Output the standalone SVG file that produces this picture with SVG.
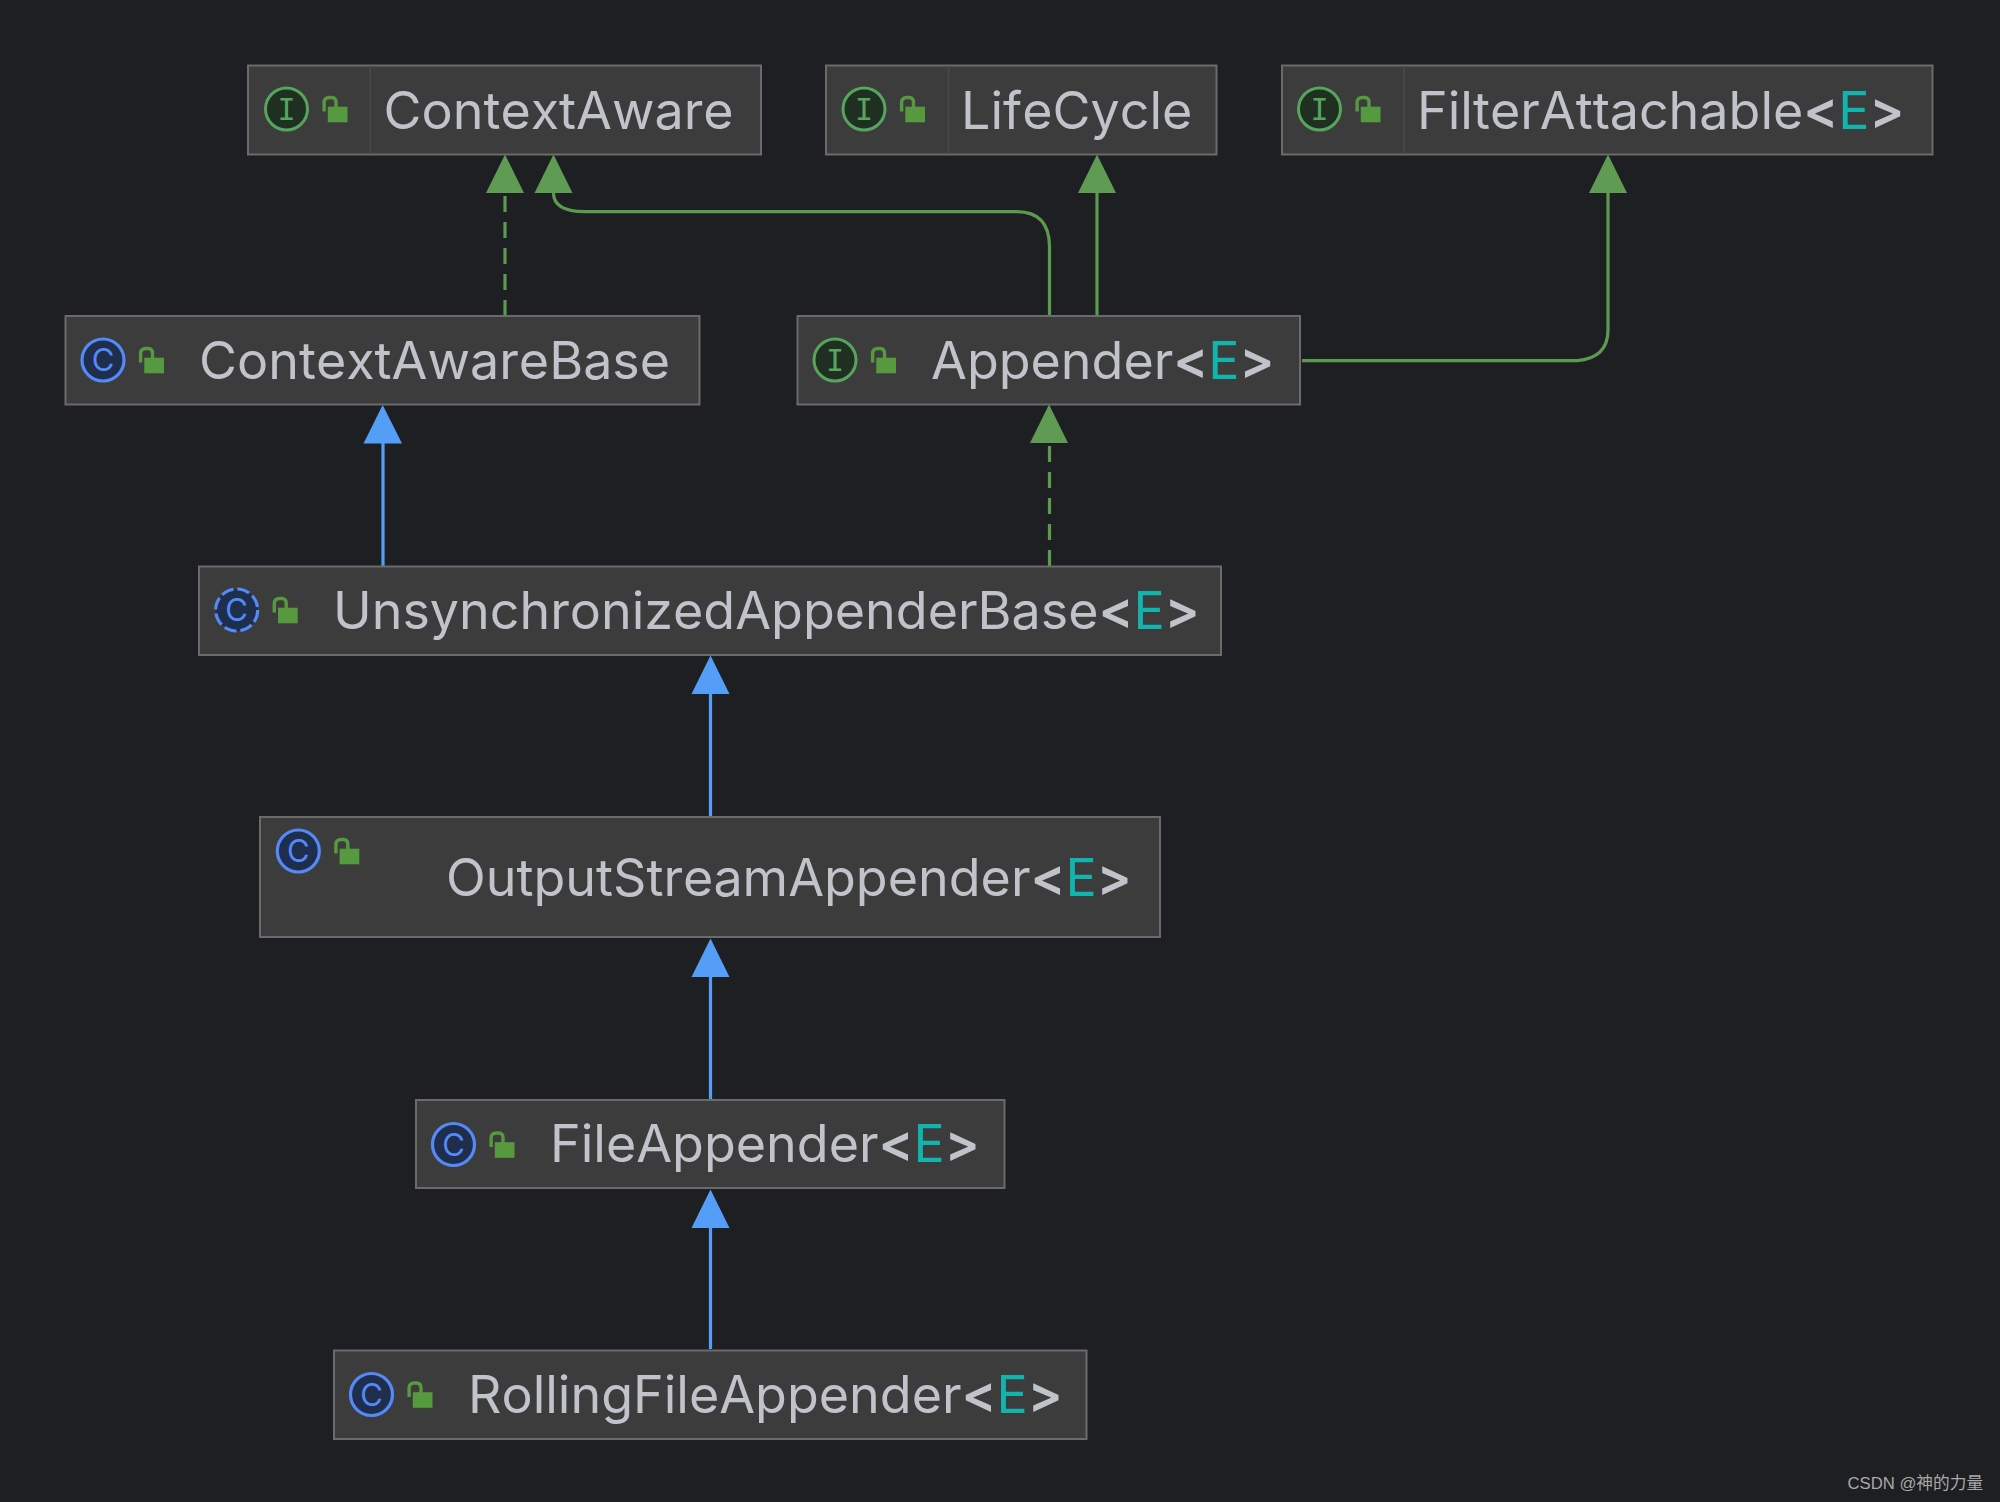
<svg xmlns="http://www.w3.org/2000/svg" width="2000" height="1502" viewBox="0 0 2000 1502">
<style>
.box{fill:#3c3c3d;stroke:#6b6b6b;stroke-width:2}
.div{stroke:#4a4a4b;stroke-width:1.5}
.t{font-family:Inter,"Liberation Sans",sans-serif;font-size:52px;fill:#c1c3ca;font-kerning:none}
.b{font-weight:600}
.e{fill:#12b5ad}
.ci{fill:#1f3022;stroke:#57a55c;stroke-width:3}
.cc{fill:#1f2e4c;stroke:#548af7;stroke-width:3.2}
.ca{stroke-dasharray:12.5 4}
.il{font-family:"DejaVu Sans Mono",monospace;font-size:30px;fill:#57a55c;text-anchor:middle}
.cl{font-family:Inter,"Liberation Sans",sans-serif;font-size:31px;fill:#548af7;text-anchor:middle}
.g{fill:none;stroke:#5c9a50;stroke-width:3.2}
.gd{stroke-dasharray:16 10}
.bl{fill:none;stroke:#549ef7;stroke-width:3.2}
.hg{fill:#5f9b53}
.hb{fill:#549ef7}
.wm{font-family:"Liberation Sans","Noto Sans CJK SC",sans-serif;font-size:16.7px;fill:#a9a9a9}
</style>
<defs>
<g id="lock"><rect x="41.3" y="-2.3" width="19.7" height="15.6" fill="#57993f"/><path d="M37.6 2.5V-6.5Q37.6 -11.5 43 -11.5H45Q49.5 -11.5 49.5 -6.5V0" fill="none" stroke="#57993f" stroke-width="3.4"/></g>
</defs>
<rect width="2000" height="1502" fill="#1e1f22"/>

<g id="connectors">
<path class="g gd" d="M505 316V193"/><polygon class="hg" points="505,154.500 486,193 524,193"/>
<path class="g" d="M1049.5 316V246Q1049 212 1017 211.7H585Q553.5 211.500 553.5 193"/><polygon class="hg" points="553.5,154.500 534.5,193 572.5,193"/>
<path class="g" d="M1097 316V193"/><polygon class="hg" points="1097,154.500 1078,193 1116,193"/>
<path class="g" d="M1302 360.7H1577Q1608 358 1608 330V193"/><polygon class="hg" points="1608,154.500 1589,193 1627,193"/>
<path class="g gd" d="M1049.5 566V443"/><polygon class="hg" points="1049,404.500 1030,443 1068,443"/>
<path class="bl" d="M383 566V443"/><polygon class="hb" points="382.7,405 363.5,443.500 402,443.500"/>
<path class="bl" d="M710.5 816V694"/><polygon class="hb" points="710.5,655.500 691.5,694 729.5,694"/>
<path class="bl" d="M710.5 1099V977"/><polygon class="hb" points="710.5,938.500 691.5,977 729.5,977"/>
<path class="bl" d="M710.5 1349V1228"/><polygon class="hb" points="710.5,1189.500 691.5,1228 729.5,1228"/>
</g>

<g id="node-contextaware">
<rect class="box" x="248" y="65.5" width="513" height="89"/><path class="div" d="M370 66V154"/>
<circle class="ci" cx="286.5" cy="109" r="21"/><text class="il" x="286.5" y="120">I</text><use href="#lock" x="286.5" y="109"/>
<text class="t" x="383.500" y="128.500">ContextAware</text>
</g>
<g id="node-lifecycle">
<rect class="box" x="826" y="65.5" width="390.500" height="89"/><path class="div" d="M948.500 66V154"/>
<circle class="ci" cx="864" cy="109" r="21"/><text class="il" x="864" y="120">I</text><use href="#lock" x="864" y="109"/>
<text class="t" x="961" y="128.500">LifeCycle</text>
</g>
<g id="node-filterattachable">
<rect class="box" x="1282" y="65.5" width="650.500" height="89"/><path class="div" d="M1404 66V154"/>
<circle class="ci" cx="1319.500" cy="109" r="21"/><text class="il" x="1319.500" y="120">I</text><use href="#lock" x="1319.500" y="109"/>
<text class="t" x="1417" y="128.500">FilterAttachable<tspan class="b">&lt;</tspan><tspan class="e">E</tspan><tspan class="b">&gt;</tspan></text>
</g>
<g id="node-contextawarebase">
<rect class="box" x="65.500" y="316" width="634" height="88.500"/>
<circle class="cc" cx="103" cy="360" r="21"/><text class="cl" x="103" y="371">C</text><use href="#lock" x="103" y="360"/>
<text class="t" x="199" y="379">ContextAwareBase</text>
</g>
<g id="node-appender">
<rect class="box" x="797.500" y="316" width="502.500" height="88.500"/>
<circle class="ci" cx="835" cy="360" r="21"/><text class="il" x="835" y="371">I</text><use href="#lock" x="835" y="360"/>
<text class="t" x="931" y="379">Appender<tspan class="b">&lt;</tspan><tspan class="e">E</tspan><tspan class="b">&gt;</tspan></text>
</g>
<g id="node-unsynchronizedappenderbase">
<rect class="box" x="199" y="566.500" width="1022" height="88.500"/>
<circle class="cc ca" cx="236.700" cy="610" r="21"/><text class="cl" x="236.700" y="621">C</text><use href="#lock" x="236.700" y="610"/>
<text class="t" x="333" y="629">UnsynchronizedAppenderBase<tspan class="b">&lt;</tspan><tspan class="e">E</tspan><tspan class="b">&gt;</tspan></text>
</g>
<g id="node-outputstreamappender">
<rect class="box" x="260" y="817" width="900" height="120"/>
<circle class="cc" cx="298.300" cy="851" r="21"/><text class="cl" x="298.300" y="862">C</text><use href="#lock" x="298.300" y="851"/>
<text class="t" x="446" y="896">OutputStreamAppender<tspan class="b">&lt;</tspan><tspan class="e">E</tspan><tspan class="b">&gt;</tspan></text>
</g>
<g id="node-fileappender">
<rect class="box" x="416" y="1100" width="588.500" height="88"/>
<circle class="cc" cx="453.500" cy="1144.500" r="21"/><text class="cl" x="453.500" y="1155.500">C</text><use href="#lock" x="453.500" y="1144.500"/>
<text class="t" x="550" y="1162">FileAppender<tspan class="b">&lt;</tspan><tspan class="e">E</tspan><tspan class="b">&gt;</tspan></text>
</g>
<g id="node-rollingfileappender">
<rect class="box" x="334" y="1350.500" width="752.500" height="88.500"/>
<circle class="cc" cx="371.500" cy="1394.500" r="21"/><text class="cl" x="371.500" y="1405.500">C</text><use href="#lock" x="371.500" y="1394.500"/>
<text class="t" x="468" y="1412.500">RollingFileAppender<tspan class="b">&lt;</tspan><tspan class="e">E</tspan><tspan class="b">&gt;</tspan></text>
</g>
<text class="wm" x="1847.500" y="1489">CSDN @神的力量</text>
</svg>
